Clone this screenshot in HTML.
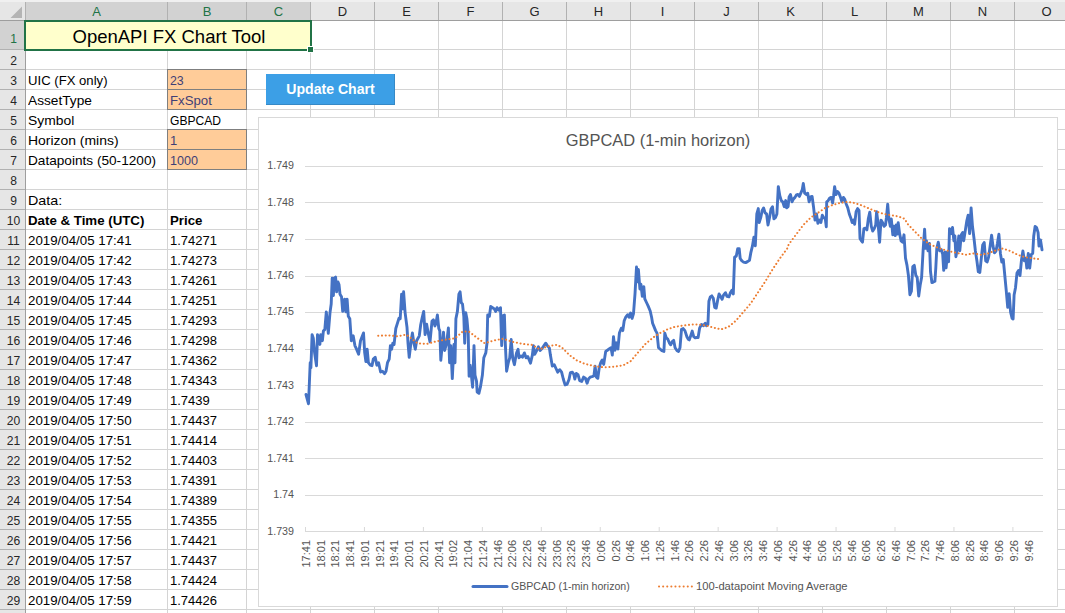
<!DOCTYPE html><html><head><meta charset="utf-8"><title>OpenAPI FX Chart Tool</title><style>
html,body{margin:0;padding:0;}
body{width:1065px;height:613px;overflow:hidden;background:#fff;position:relative;font-family:"Liberation Sans",sans-serif;}
.abs{position:absolute;}
.t{position:absolute;white-space:nowrap;color:#000;font-size:13px;line-height:20px;height:20px;transform-origin:0 50%;}
.b{font-weight:bold;}
.ch{position:absolute;top:2px;height:18px;line-height:19px;text-align:center;font-size:13px;color:#262626;}
.rh{position:absolute;left:0.5px;width:25px;text-align:center;transform:scaleX(0.93);font-size:13px;color:#262626;}
.inp{position:absolute;background:#ffcc99;border:1px solid #7f7f7f;box-sizing:border-box;}
.xl{position:absolute;font-size:11px;color:#545454;white-space:nowrap;transform-origin:0 0;transform:rotate(-90deg);line-height:12px;height:12px;width:40px;text-align:right;}
.yl{position:absolute;font-size:10.7px;color:#545454;white-space:nowrap;text-align:right;width:40px;line-height:12px;height:12px;}
</style></head><body>
<svg class="abs" style="left:0;top:0" width="1065" height="613" shape-rendering="crispEdges">
<rect x="167" y="21" width="1" height="592" fill="#d4d4d4"/>
<rect x="246" y="21" width="1" height="592" fill="#d4d4d4"/>
<rect x="310" y="21" width="1" height="592" fill="#d4d4d4"/>
<rect x="374" y="21" width="1" height="592" fill="#d4d4d4"/>
<rect x="438" y="21" width="1" height="592" fill="#d4d4d4"/>
<rect x="502" y="21" width="1" height="592" fill="#d4d4d4"/>
<rect x="566" y="21" width="1" height="592" fill="#d4d4d4"/>
<rect x="630" y="21" width="1" height="592" fill="#d4d4d4"/>
<rect x="694" y="21" width="1" height="592" fill="#d4d4d4"/>
<rect x="758" y="21" width="1" height="592" fill="#d4d4d4"/>
<rect x="822" y="21" width="1" height="592" fill="#d4d4d4"/>
<rect x="886" y="21" width="1" height="592" fill="#d4d4d4"/>
<rect x="950" y="21" width="1" height="592" fill="#d4d4d4"/>
<rect x="1014" y="21" width="1" height="592" fill="#d4d4d4"/>
<rect x="26" y="49" width="1039" height="1" fill="#d4d4d4"/>
<rect x="26" y="69" width="1039" height="1" fill="#d4d4d4"/>
<rect x="26" y="89" width="1039" height="1" fill="#d4d4d4"/>
<rect x="26" y="109" width="1039" height="1" fill="#d4d4d4"/>
<rect x="26" y="129" width="1039" height="1" fill="#d4d4d4"/>
<rect x="26" y="149" width="1039" height="1" fill="#d4d4d4"/>
<rect x="26" y="169" width="1039" height="1" fill="#d4d4d4"/>
<rect x="26" y="189" width="1039" height="1" fill="#d4d4d4"/>
<rect x="26" y="209" width="1039" height="1" fill="#d4d4d4"/>
<rect x="26" y="229" width="1039" height="1" fill="#d4d4d4"/>
<rect x="26" y="249" width="1039" height="1" fill="#d4d4d4"/>
<rect x="26" y="269" width="1039" height="1" fill="#d4d4d4"/>
<rect x="26" y="289" width="1039" height="1" fill="#d4d4d4"/>
<rect x="26" y="309" width="1039" height="1" fill="#d4d4d4"/>
<rect x="26" y="329" width="1039" height="1" fill="#d4d4d4"/>
<rect x="26" y="349" width="1039" height="1" fill="#d4d4d4"/>
<rect x="26" y="369" width="1039" height="1" fill="#d4d4d4"/>
<rect x="26" y="389" width="1039" height="1" fill="#d4d4d4"/>
<rect x="26" y="409" width="1039" height="1" fill="#d4d4d4"/>
<rect x="26" y="429" width="1039" height="1" fill="#d4d4d4"/>
<rect x="26" y="449" width="1039" height="1" fill="#d4d4d4"/>
<rect x="26" y="469" width="1039" height="1" fill="#d4d4d4"/>
<rect x="26" y="489" width="1039" height="1" fill="#d4d4d4"/>
<rect x="26" y="509" width="1039" height="1" fill="#d4d4d4"/>
<rect x="26" y="529" width="1039" height="1" fill="#d4d4d4"/>
<rect x="26" y="549" width="1039" height="1" fill="#d4d4d4"/>
<rect x="26" y="569" width="1039" height="1" fill="#d4d4d4"/>
<rect x="26" y="589" width="1039" height="1" fill="#d4d4d4"/>
<rect x="26" y="609" width="1039" height="1" fill="#d4d4d4"/>
</svg>
<div class="abs" style="left:0;top:0;width:1065px;height:2px;background:#f0f0f0"></div>
<div class="abs" style="left:0;top:2px;width:1065px;height:18px;background:#e6e6e6"></div>
<div class="abs" style="left:0;top:20px;width:1065px;height:1px;background:#9e9e9e"></div>
<div class="abs" style="left:26px;top:2px;width:285px;height:18px;background:#d2d2d2"></div>
<div class="ch" style="left:26px;width:141px;color:#217346">A</div>
<div class="abs" style="left:167px;top:2px;width:1px;height:18px;background:#b1b1b1"></div>
<div class="ch" style="left:168px;width:78px;color:#217346">B</div>
<div class="abs" style="left:246px;top:2px;width:1px;height:18px;background:#b1b1b1"></div>
<div class="ch" style="left:247px;width:63px;color:#217346">C</div>
<div class="abs" style="left:310px;top:2px;width:1px;height:18px;background:#b1b1b1"></div>
<div class="ch" style="left:311px;width:63px;color:#262626">D</div>
<div class="abs" style="left:374px;top:2px;width:1px;height:18px;background:#b1b1b1"></div>
<div class="ch" style="left:375px;width:63px;color:#262626">E</div>
<div class="abs" style="left:438px;top:2px;width:1px;height:18px;background:#b1b1b1"></div>
<div class="ch" style="left:439px;width:63px;color:#262626">F</div>
<div class="abs" style="left:502px;top:2px;width:1px;height:18px;background:#b1b1b1"></div>
<div class="ch" style="left:503px;width:63px;color:#262626">G</div>
<div class="abs" style="left:566px;top:2px;width:1px;height:18px;background:#b1b1b1"></div>
<div class="ch" style="left:567px;width:63px;color:#262626">H</div>
<div class="abs" style="left:630px;top:2px;width:1px;height:18px;background:#b1b1b1"></div>
<div class="ch" style="left:631px;width:63px;color:#262626">I</div>
<div class="abs" style="left:694px;top:2px;width:1px;height:18px;background:#b1b1b1"></div>
<div class="ch" style="left:695px;width:63px;color:#262626">J</div>
<div class="abs" style="left:758px;top:2px;width:1px;height:18px;background:#b1b1b1"></div>
<div class="ch" style="left:759px;width:63px;color:#262626">K</div>
<div class="abs" style="left:822px;top:2px;width:1px;height:18px;background:#b1b1b1"></div>
<div class="ch" style="left:823px;width:63px;color:#262626">L</div>
<div class="abs" style="left:886px;top:2px;width:1px;height:18px;background:#b1b1b1"></div>
<div class="ch" style="left:887px;width:63px;color:#262626">M</div>
<div class="abs" style="left:950px;top:2px;width:1px;height:18px;background:#b1b1b1"></div>
<div class="ch" style="left:951px;width:63px;color:#262626">N</div>
<div class="abs" style="left:1014px;top:2px;width:1px;height:18px;background:#b1b1b1"></div>
<div class="ch" style="left:1015px;width:63px;color:#262626">O</div>
<div class="abs" style="left:1078px;top:2px;width:1px;height:18px;background:#b1b1b1"></div>
<div class="abs" style="left:25px;top:2px;width:1px;height:18px;background:#b1b1b1"></div>
<svg class="abs" style="left:0;top:0" width="25" height="21"><polygon points="22,6.5 22,18 10.5,18" fill="#b4b4b4"/></svg>
<div class="abs" style="left:0;top:21px;width:25px;height:592px;background:#e6e6e6"></div>
<div class="abs" style="left:25px;top:21px;width:1px;height:592px;background:#9e9e9e"></div>
<div class="abs" style="left:0;top:21px;width:25px;height:29px;background:#d2d2d2"></div>
<div class="rh" style="top:21px;height:28px;line-height:36px;color:#217346">1</div>
<div class="abs" style="left:0;top:49px;width:25px;height:1px;background:#b1b1b1"></div>
<div class="rh" style="top:50px;height:19px;line-height:21px;color:#262626">2</div>
<div class="abs" style="left:0;top:69px;width:25px;height:1px;background:#b1b1b1"></div>
<div class="rh" style="top:70px;height:19px;line-height:21px;color:#262626">3</div>
<div class="abs" style="left:0;top:89px;width:25px;height:1px;background:#b1b1b1"></div>
<div class="rh" style="top:90px;height:19px;line-height:21px;color:#262626">4</div>
<div class="abs" style="left:0;top:109px;width:25px;height:1px;background:#b1b1b1"></div>
<div class="rh" style="top:110px;height:19px;line-height:21px;color:#262626">5</div>
<div class="abs" style="left:0;top:129px;width:25px;height:1px;background:#b1b1b1"></div>
<div class="rh" style="top:130px;height:19px;line-height:21px;color:#262626">6</div>
<div class="abs" style="left:0;top:149px;width:25px;height:1px;background:#b1b1b1"></div>
<div class="rh" style="top:150px;height:19px;line-height:21px;color:#262626">7</div>
<div class="abs" style="left:0;top:169px;width:25px;height:1px;background:#b1b1b1"></div>
<div class="rh" style="top:170px;height:19px;line-height:21px;color:#262626">8</div>
<div class="abs" style="left:0;top:189px;width:25px;height:1px;background:#b1b1b1"></div>
<div class="rh" style="top:190px;height:19px;line-height:21px;color:#262626">9</div>
<div class="abs" style="left:0;top:209px;width:25px;height:1px;background:#b1b1b1"></div>
<div class="rh" style="top:210px;height:19px;line-height:21px;color:#262626">10</div>
<div class="abs" style="left:0;top:229px;width:25px;height:1px;background:#b1b1b1"></div>
<div class="rh" style="top:230px;height:19px;line-height:21px;color:#262626">11</div>
<div class="abs" style="left:0;top:249px;width:25px;height:1px;background:#b1b1b1"></div>
<div class="rh" style="top:250px;height:19px;line-height:21px;color:#262626">12</div>
<div class="abs" style="left:0;top:269px;width:25px;height:1px;background:#b1b1b1"></div>
<div class="rh" style="top:270px;height:19px;line-height:21px;color:#262626">13</div>
<div class="abs" style="left:0;top:289px;width:25px;height:1px;background:#b1b1b1"></div>
<div class="rh" style="top:290px;height:19px;line-height:21px;color:#262626">14</div>
<div class="abs" style="left:0;top:309px;width:25px;height:1px;background:#b1b1b1"></div>
<div class="rh" style="top:310px;height:19px;line-height:21px;color:#262626">15</div>
<div class="abs" style="left:0;top:329px;width:25px;height:1px;background:#b1b1b1"></div>
<div class="rh" style="top:330px;height:19px;line-height:21px;color:#262626">16</div>
<div class="abs" style="left:0;top:349px;width:25px;height:1px;background:#b1b1b1"></div>
<div class="rh" style="top:350px;height:19px;line-height:21px;color:#262626">17</div>
<div class="abs" style="left:0;top:369px;width:25px;height:1px;background:#b1b1b1"></div>
<div class="rh" style="top:370px;height:19px;line-height:21px;color:#262626">18</div>
<div class="abs" style="left:0;top:389px;width:25px;height:1px;background:#b1b1b1"></div>
<div class="rh" style="top:390px;height:19px;line-height:21px;color:#262626">19</div>
<div class="abs" style="left:0;top:409px;width:25px;height:1px;background:#b1b1b1"></div>
<div class="rh" style="top:410px;height:19px;line-height:21px;color:#262626">20</div>
<div class="abs" style="left:0;top:429px;width:25px;height:1px;background:#b1b1b1"></div>
<div class="rh" style="top:430px;height:19px;line-height:21px;color:#262626">21</div>
<div class="abs" style="left:0;top:449px;width:25px;height:1px;background:#b1b1b1"></div>
<div class="rh" style="top:450px;height:19px;line-height:21px;color:#262626">22</div>
<div class="abs" style="left:0;top:469px;width:25px;height:1px;background:#b1b1b1"></div>
<div class="rh" style="top:470px;height:19px;line-height:21px;color:#262626">23</div>
<div class="abs" style="left:0;top:489px;width:25px;height:1px;background:#b1b1b1"></div>
<div class="rh" style="top:490px;height:19px;line-height:21px;color:#262626">24</div>
<div class="abs" style="left:0;top:509px;width:25px;height:1px;background:#b1b1b1"></div>
<div class="rh" style="top:510px;height:19px;line-height:21px;color:#262626">25</div>
<div class="abs" style="left:0;top:529px;width:25px;height:1px;background:#b1b1b1"></div>
<div class="rh" style="top:530px;height:19px;line-height:21px;color:#262626">26</div>
<div class="abs" style="left:0;top:549px;width:25px;height:1px;background:#b1b1b1"></div>
<div class="rh" style="top:550px;height:19px;line-height:21px;color:#262626">27</div>
<div class="abs" style="left:0;top:569px;width:25px;height:1px;background:#b1b1b1"></div>
<div class="rh" style="top:570px;height:19px;line-height:21px;color:#262626">28</div>
<div class="abs" style="left:0;top:589px;width:25px;height:1px;background:#b1b1b1"></div>
<div class="rh" style="top:590px;height:19px;line-height:21px;color:#262626">29</div>
<div class="abs" style="left:0;top:609px;width:25px;height:1px;background:#b1b1b1"></div>
<div class="rh" style="top:610px;height:19px;line-height:21px;color:#262626">30</div>
<div class="abs" style="left:0;top:629px;width:25px;height:1px;background:#b1b1b1"></div>
<div class="abs" style="left:25px;top:21px;width:286px;height:29px;background:#ffffcc"></div>
<div class="abs" id="title" style="left:25px;top:21px;width:286px;height:29px;line-height:32px;text-align:center;font-size:18.5px;color:#000;white-space:nowrap;left:26px">OpenAPI FX Chart Tool</div>
<div class="abs" style="left:24px;top:20px;width:284px;height:27px;border:2px solid #217346"></div>
<div class="abs" style="left:307px;top:46px;width:5px;height:5px;background:#217346;border:1px solid #fff"></div>
<div class="inp" style="left:167px;top:69px;width:80px;height:21px"></div>
<div class="inp" style="left:167px;top:89px;width:80px;height:21px"></div>
<div class="inp" style="left:167px;top:129px;width:80px;height:21px"></div>
<div class="inp" style="left:167px;top:149px;width:80px;height:21px"></div>
<div class="t" style="left:28.3px;top:71px;transform:scaleX(1.01);">UIC (FX only)</div>
<div class="t" style="left:28.3px;top:91px;transform:scaleX(1.053);">AssetType</div>
<div class="t" style="left:28.3px;top:111px;transform:scaleX(1.067);">Symbol</div>
<div class="t" style="left:28.3px;top:131px;transform:scaleX(1.071);">Horizon (mins)</div>
<div class="t" style="left:28.3px;top:151px;transform:scaleX(1.048);">Datapoints (50-1200)</div>
<div class="t" style="left:28.3px;top:191px;transform:scaleX(1.1);">Data:</div>
<div class="t b" style="left:28.3px;top:211px;transform:scaleX(1.022);">Date &amp; Time (UTC)</div>
<div class="t b" style="left:170px;top:211px;transform:scaleX(1.02);">Price</div>
<div class="t" style="left:170px;top:71px;transform:scaleX(0.95);color:#3f3f76;">23</div>
<div class="t" style="left:170px;top:91px;transform:scaleX(1.015);color:#3f3f76;">FxSpot</div>
<div class="t" style="left:170px;top:111px;transform:scaleX(0.93);color:#000;">GBPCAD</div>
<div class="t" style="left:170px;top:131px;color:#3f3f76;">1</div>
<div class="t" style="left:170px;top:151px;transform:scaleX(0.97);color:#3f3f76;">1000</div>
<div class="t" style="left:28.3px;top:231px;transform:scaleX(1.023);">2019/04/05 17:41</div>
<div class="t" style="left:170px;top:231px;">1.74271</div>
<div class="t" style="left:28.3px;top:251px;transform:scaleX(1.023);">2019/04/05 17:42</div>
<div class="t" style="left:170px;top:251px;">1.74273</div>
<div class="t" style="left:28.3px;top:271px;transform:scaleX(1.023);">2019/04/05 17:43</div>
<div class="t" style="left:170px;top:271px;">1.74261</div>
<div class="t" style="left:28.3px;top:291px;transform:scaleX(1.023);">2019/04/05 17:44</div>
<div class="t" style="left:170px;top:291px;">1.74251</div>
<div class="t" style="left:28.3px;top:311px;transform:scaleX(1.023);">2019/04/05 17:45</div>
<div class="t" style="left:170px;top:311px;">1.74293</div>
<div class="t" style="left:28.3px;top:331px;transform:scaleX(1.023);">2019/04/05 17:46</div>
<div class="t" style="left:170px;top:331px;">1.74298</div>
<div class="t" style="left:28.3px;top:351px;transform:scaleX(1.023);">2019/04/05 17:47</div>
<div class="t" style="left:170px;top:351px;">1.74362</div>
<div class="t" style="left:28.3px;top:371px;transform:scaleX(1.023);">2019/04/05 17:48</div>
<div class="t" style="left:170px;top:371px;">1.74343</div>
<div class="t" style="left:28.3px;top:391px;transform:scaleX(1.023);">2019/04/05 17:49</div>
<div class="t" style="left:170px;top:391px;">1.7439</div>
<div class="t" style="left:28.3px;top:411px;transform:scaleX(1.023);">2019/04/05 17:50</div>
<div class="t" style="left:170px;top:411px;">1.74437</div>
<div class="t" style="left:28.3px;top:431px;transform:scaleX(1.023);">2019/04/05 17:51</div>
<div class="t" style="left:170px;top:431px;">1.74414</div>
<div class="t" style="left:28.3px;top:451px;transform:scaleX(1.023);">2019/04/05 17:52</div>
<div class="t" style="left:170px;top:451px;">1.74403</div>
<div class="t" style="left:28.3px;top:471px;transform:scaleX(1.023);">2019/04/05 17:53</div>
<div class="t" style="left:170px;top:471px;">1.74391</div>
<div class="t" style="left:28.3px;top:491px;transform:scaleX(1.023);">2019/04/05 17:54</div>
<div class="t" style="left:170px;top:491px;">1.74389</div>
<div class="t" style="left:28.3px;top:511px;transform:scaleX(1.023);">2019/04/05 17:55</div>
<div class="t" style="left:170px;top:511px;">1.74355</div>
<div class="t" style="left:28.3px;top:531px;transform:scaleX(1.023);">2019/04/05 17:56</div>
<div class="t" style="left:170px;top:531px;">1.74421</div>
<div class="t" style="left:28.3px;top:551px;transform:scaleX(1.023);">2019/04/05 17:57</div>
<div class="t" style="left:170px;top:551px;">1.74437</div>
<div class="t" style="left:28.3px;top:571px;transform:scaleX(1.023);">2019/04/05 17:58</div>
<div class="t" style="left:170px;top:571px;">1.74424</div>
<div class="t" style="left:28.3px;top:591px;transform:scaleX(1.023);">2019/04/05 17:59</div>
<div class="t" style="left:170px;top:591px;">1.74426</div>
<div class="abs" style="left:266px;top:74px;width:129px;height:31px;background:#3c9fe6;box-shadow:inset -1px -1px 0 #3689c6"></div>
<div class="abs" id="btn" style="left:266px;top:74px;width:129px;height:31px;line-height:30px;text-align:center;color:#fff;font-weight:bold;font-size:14.1px;white-space:nowrap">Update Chart</div>
<div class="abs" style="left:258px;top:117px;width:798px;height:488px;background:#fff;border:1px solid #d9d9d9"></div>
<div class="abs" id="ctitle" style="left:258px;top:128.5px;width:800px;text-align:center;font-size:17.2px;line-height:22px;color:#545454;white-space:nowrap;transform:scaleX(0.957)">GBPCAD (1-min horizon)</div>
<svg class="abs" style="left:0;top:0" width="1065" height="613">
<g shape-rendering="crispEdges">
<rect x="305" y="166" width="738" height="1" fill="#d9d9d9"/>
<rect x="305" y="202" width="738" height="1" fill="#d9d9d9"/>
<rect x="305" y="239" width="738" height="1" fill="#d9d9d9"/>
<rect x="305" y="276" width="738" height="1" fill="#d9d9d9"/>
<rect x="305" y="312" width="738" height="1" fill="#d9d9d9"/>
<rect x="305" y="349" width="738" height="1" fill="#d9d9d9"/>
<rect x="305" y="385" width="738" height="1" fill="#d9d9d9"/>
<rect x="305" y="422" width="738" height="1" fill="#d9d9d9"/>
<rect x="305" y="458" width="738" height="1" fill="#d9d9d9"/>
<rect x="305" y="495" width="738" height="1" fill="#d9d9d9"/>
<rect x="305" y="531" width="738" height="1" fill="#d9d9d9"/>
</g>
<rect x="305.00" y="527" width="1" height="4" fill="#d9d9d9"/>
<rect x="363.95" y="527" width="1" height="4" fill="#d9d9d9"/>
<rect x="422.90" y="527" width="1" height="4" fill="#d9d9d9"/>
<rect x="481.85" y="527" width="1" height="4" fill="#d9d9d9"/>
<rect x="540.80" y="527" width="1" height="4" fill="#d9d9d9"/>
<rect x="599.75" y="527" width="1" height="4" fill="#d9d9d9"/>
<rect x="658.70" y="527" width="1" height="4" fill="#d9d9d9"/>
<rect x="717.65" y="527" width="1" height="4" fill="#d9d9d9"/>
<rect x="776.60" y="527" width="1" height="4" fill="#d9d9d9"/>
<rect x="835.55" y="527" width="1" height="4" fill="#d9d9d9"/>
<rect x="894.50" y="527" width="1" height="4" fill="#d9d9d9"/>
<rect x="953.45" y="527" width="1" height="4" fill="#d9d9d9"/>
<rect x="1012.40" y="527" width="1" height="4" fill="#d9d9d9"/>
<path d="M306.0,394.5 L308.5,403.8 L309.2,387.2 L310.2,362.7 L310.9,367.6 L312.1,334.6 L313.3,338.3 L314.6,352.9 L316.5,365.7 L317.5,334.6 L319.0,340.7 L319.9,344.4 L320.7,334.6 L322.4,340.7 L323.4,330.9 L324.8,329.7 L326.3,311.9 L328.3,333.4 L330.0,312.6 L331.2,304.0 L332.2,278.3 L333.4,295.5 L334.1,278.3 L335.6,277.1 L336.6,291.8 L338.0,282.0 L339.0,284.5 L340.0,294.2 L341.5,296.7 L342.7,311.4 L344.7,299.1 L345.9,311.9 L347.1,299.1 L348.3,316.3 L349.8,318.7 L351.3,340.7 L353.2,335.8 L354.9,345.6 L356.1,348.1 L358.6,354.2 L360.5,340.7 L363.5,332.9 L364.7,352.9 L365.9,361.5 L367.2,349.3 L368.4,362.7 L370.3,365.2 L372.0,365.7 L373.3,359.1 L375.2,357.3 L376.9,365.2 L378.6,362.7 L380.6,372.0 L382.6,371.3 L384.5,373.7 L386.0,371.3 L387.5,362.7 L389.2,359.1 L390.4,345.6 L391.6,349.3 L392.8,343.2 L394.1,344.4 L395.8,328.5 L397.7,322.4 L399.0,318.2 L400.2,318.7 L401.6,294.2 L402.6,308.9 L403.6,291.8 L405.1,312.6 L407.0,327.3 L408.0,343.2 L409.2,357.3 L411.2,340.7 L412.4,332.9 L413.9,343.2 L415.3,349.3 L416.6,340.7 L418.0,338.3 L419.3,335.8 L420.7,324.8 L422.2,317.5 L423.7,311.4 L425.1,334.6 L426.6,324.1 L428.3,333.4 L430.0,341.9 L432.0,321.1 L433.4,319.9 L434.9,326.0 L435.9,323.6 L437.4,315.0 L438.8,328.5 L439.8,330.9 L440.8,360.3 L442.2,345.6 L443.5,332.2 L444.7,350.5 L446.6,343.2 L448.4,328.0 L449.6,362.7 L450.8,345.6 L452.3,378.6 L454.0,344.4 L455.0,362.7 L455.9,318.7 L457.4,311.4 L458.9,294.2 L460.1,291.8 L461.3,302.8 L462.5,304.0 L463.8,316.3 L464.7,343.2 L465.7,312.6 L466.9,318.7 L468.2,333.4 L469.1,376.2 L470.1,365.2 L471.1,372.5 L472.6,387.2 L474.0,345.6 L475.0,375.0 L476.5,381.1 L477.2,392.1 L478.9,393.3 L480.4,387.2 L482.4,375.0 L483.8,357.8 L485.8,352.9 L487.0,343.2 L487.7,315.0 L489.4,316.3 L490.7,306.5 L492.6,307.7 L494.3,308.9 L495.6,311.4 L497.0,307.7 L498.5,310.1 L500.5,307.7 L501.7,345.6 L502.9,315.8 L504.4,315.0 L505.3,343.2 L506.6,371.3 L508.3,362.7 L509.7,357.8 L511.2,339.5 L512.7,357.8 L514.4,364.7 L515.6,357.8 L516.6,352.9 L518.1,349.3 L519.0,357.8 L521.0,355.9 L522.5,357.3 L524.4,352.9 L526.1,357.8 L527.8,356.6 L529.3,360.3 L530.5,363.2 L532.3,355.4 L533.5,345.6 L534.7,354.2 L536.7,350.5 L538.4,346.8 L540.1,350.5 L542.0,348.5 L544.0,345.6 L545.7,343.2 L547.4,345.6 L549.4,348.1 L550.4,355.1 L552.3,366.1 L554.3,364.8 L556.0,368.5 L557.7,372.2 L559.7,369.7 L561.6,372.2 L563.3,379.0 L565.1,384.9 L567.0,384.4 L569.0,379.5 L570.4,372.7 L572.4,372.2 L573.9,374.6 L574.8,379.0 L576.3,373.4 L578.0,374.6 L579.7,380.7 L581.7,381.5 L583.6,377.1 L585.4,378.3 L587.1,383.2 L588.5,379.0 L590.2,377.1 L592.0,376.6 L593.9,375.9 L595.1,366.1 L596.4,377.1 L597.8,378.3 L599.3,367.3 L600.8,362.4 L602.2,360.0 L603.7,364.4 L605.7,351.4 L607.4,350.2 L609.1,349.0 L611.0,347.7 L612.3,355.1 L613.5,336.7 L615.0,350.2 L616.4,342.8 L617.9,349.0 L619.4,333.1 L621.3,328.2 L622.8,330.6 L624.2,320.8 L625.7,317.2 L627.7,314.7 L629.1,317.2 L630.6,313.0 L632.1,318.4 L633.5,313.5 L635.0,293.9 L636.5,267.0 L637.5,281.7 L638.4,269.5 L639.9,289.0 L640.9,284.1 L642.3,296.4 L643.8,286.6 L644.8,298.8 L646.5,302.5 L648.2,306.1 L650.2,311.0 L651.6,317.2 L652.6,323.3 L654.1,326.9 L655.6,330.6 L657.0,333.1 L658.5,347.7 L660.0,349.0 L661.9,350.7 L663.9,351.4 L664.8,333.1 L666.3,337.9 L667.8,339.2 L669.3,342.8 L670.7,344.8 L672.2,341.6 L673.7,340.4 L675.1,347.7 L677.1,350.7 L678.5,351.4 L680.0,347.7 L681.5,329.4 L683.2,328.6 L684.9,330.6 L686.9,336.7 L688.3,339.2 L689.3,339.9 L690.8,335.5 L692.2,331.1 L693.7,336.7 L695.2,337.9 L696.6,337.5 L698.1,337.5 L699.6,328.2 L701.5,324.5 L703.5,325.7 L705.2,323.3 L706.4,325.7 L707.9,324.5 L708.9,301.3 L710.3,296.9 L711.8,295.9 L713.3,298.3 L714.7,307.4 L716.2,308.1 L717.7,300.0 L719.1,293.9 L720.6,296.4 L722.1,299.3 L723.5,295.1 L725.5,292.7 L727.0,296.4 L728.9,296.9 L730.4,292.7 L731.9,290.2 L733.3,293.9 L734.6,257.2 L736.3,256.0 L737.7,248.7 L739.2,248.7 L740.2,258.5 L741.9,260.9 L743.6,262.1 L745.6,262.6 L747.5,261.6 L749.5,260.2 L750.9,252.3 L752.4,246.2 L753.9,237.3 L755.3,245.8 L756.8,214.0 L758.3,208.6 L759.2,222.6 L760.7,217.7 L762.2,210.4 L763.6,207.9 L765.1,212.8 L766.6,214.0 L768.0,225.0 L769.5,217.7 L771.0,209.1 L772.5,206.7 L773.9,218.9 L775.4,217.7 L776.9,214.0 L778.3,186.6 L779.8,195.7 L781.3,200.6 L782.7,201.8 L784.2,206.7 L785.7,200.6 L786.6,207.9 L788.1,206.7 L789.1,196.9 L790.5,194.5 L792.0,201.8 L793.5,198.9 L795.0,197.4 L796.4,194.9 L797.9,194.5 L799.4,196.4 L800.8,193.2 L802.3,189.6 L803.3,183.5 L804.7,193.2 L806.2,194.5 L807.7,193.2 L809.1,201.8 L810.6,196.9 L812.1,196.4 L813.5,206.7 L815.0,220.1 L816.5,214.0 L817.9,223.3 L819.4,220.1 L820.9,222.6 L822.3,215.2 L823.8,217.7 L825.3,218.9 L826.3,226.7 L826.7,201.8 L828.2,200.6 L829.7,198.1 L831.2,197.4 L832.6,203.0 L833.6,195.7 L834.6,186.6 L836.0,194.5 L837.5,191.5 L839.0,193.2 L840.4,196.9 L841.9,201.8 L843.4,197.4 L844.8,199.4 L846.3,204.2 L847.8,207.9 L849.3,214.0 L850.7,217.7 L852.2,222.6 L853.7,220.1 L854.6,224.3 L856.1,211.6 L857.6,208.6 L859.0,210.4 L860.0,238.5 L861.5,240.9 L862.5,242.2 L863.9,228.7 L865.4,228.2 L866.9,229.9 L868.3,218.9 L869.8,212.1 L871.3,226.3 L872.7,231.1 L874.2,228.7 L875.7,225.0 L876.6,211.6 L878.1,223.8 L879.6,242.2 L881.0,220.1 L882.5,222.6 L884.0,226.3 L885.5,225.0 L886.4,217.7 L887.7,204.2 L888.9,218.9 L890.3,226.3 L891.3,218.9 L892.8,234.8 L893.8,226.3 L895.2,235.5 L896.2,225.0 L897.2,234.1 L898.2,222.6 L899.6,233.6 L901.1,240.9 L902.6,242.2 L904.0,234.8 L905.5,258.1 L907.0,265.4 L908.4,275.2 L909.9,294.7 L911.4,291.1 L912.8,266.6 L914.3,265.4 L915.8,275.2 L917.2,277.6 L918.7,296.0 L920.2,285.0 L921.6,277.6 L923.1,250.7 L924.6,229.2 L925.6,248.3 L926.5,240.9 L928.0,250.7 L929.5,243.4 L930.5,271.5 L931.9,282.5 L933.4,282.0 L934.9,281.3 L935.8,267.8 L936.8,248.3 L938.3,242.2 L939.7,250.7 L941.2,249.5 L942.7,254.4 L943.7,270.3 L945.1,251.9 L946.1,267.8 L947.6,251.9 L948.6,261.7 L949.5,228.7 L951.0,233.6 L952.5,227.5 L953.9,240.9 L954.9,236.0 L955.9,256.8 L957.4,248.3 L958.8,236.0 L959.8,250.7 L961.3,234.8 L962.7,232.4 L963.7,240.9 L965.2,231.1 L966.7,221.4 L968.1,215.2 L969.6,233.6 L971.1,207.9 L972.5,226.5 L973.9,237.5 L975.4,251.0 L976.9,260.8 L978.3,271.8 L979.8,272.5 L981.3,258.3 L982.7,244.9 L984.2,242.4 L985.7,260.8 L987.1,262.0 L988.6,257.1 L990.1,246.1 L991.6,235.1 L993.0,246.1 L994.5,252.9 L996.0,251.0 L997.4,243.6 L998.9,234.3 L1000.4,253.4 L1001.8,262.0 L1003.3,259.6 L1004.8,275.5 L1006.2,290.2 L1007.7,307.3 L1009.2,293.8 L1010.6,312.2 L1012.1,318.3 L1013.1,319.0 L1014.1,295.1 L1015.5,287.7 L1017.0,273.0 L1018.5,270.6 L1020.0,275.5 L1021.4,260.8 L1022.9,251.0 L1024.4,260.8 L1025.8,258.3 L1026.8,268.1 L1028.3,253.4 L1029.7,268.1 L1031.2,254.7 L1032.7,253.4 L1033.7,236.3 L1035.1,226.5 L1036.6,227.7 L1038.1,232.6 L1039.0,246.1 L1040.5,240.0 L1042.0,249.8" fill="none" stroke="#4472c4" stroke-width="2.9" stroke-linejoin="round" stroke-linecap="round"/>
<path d="M378.2,335.8 L387.9,335.3 L397.7,336.3 L406.3,334.6 L411.2,338.3 L417.3,343.2 L427.1,343.9 L436.9,341.2 L446.6,339.5 L455.2,338.3 L462.5,331.7 L468.7,331.4 L476.0,337.0 L484.6,343.2 L493.1,340.7 L502.9,338.8 L512.7,341.9 L522.5,343.9 L532.3,344.9 L539.6,349.3 L546.9,346.8 L549.9,345.8 L557.2,344.8 L562.1,347.7 L569.5,355.1 L576.8,360.4 L584.1,363.6 L593.9,366.1 L603.7,367.3 L613.5,366.8 L623.3,365.3 L630.6,361.2 L637.9,352.6 L645.3,344.1 L652.6,337.9 L660.0,333.1 L667.3,329.4 L674.6,326.9 L682.0,325.7 L691.8,324.5 L699.1,324.5 L706.4,325.7 L713.8,327.7 L721.1,329.4 L728.4,326.9 L735.8,320.8 L743.1,312.3 L750.5,303.7 L757.8,292.7 L765.1,281.7 L772.5,269.5 L779.8,258.5 L787.1,248.7 L788.6,244.6 L795.9,234.8 L803.3,225.0 L810.6,217.7 L817.9,212.8 L825.3,207.9 L832.6,205.0 L840.0,203.0 L847.3,201.8 L854.6,203.0 L862.0,205.5 L869.3,208.6 L876.6,211.6 L884.0,214.0 L891.3,215.2 L898.7,216.5 L904.8,218.9 L907.3,223.6 L914.7,231.4 L922.0,238.8 L929.4,244.1 L936.7,247.3 L944.1,249.8 L951.4,251.7 L958.8,253.4 L966.1,254.7 L973.4,253.4 L980.8,254.7 L988.1,253.4 L995.5,250.5 L1002.8,248.5 L1010.2,251.0 L1017.5,254.7 L1024.8,257.1 L1032.2,258.3 L1040.8,259.3" fill="none" stroke="#ed7d31" stroke-width="2" stroke-linecap="round" stroke-dasharray="0.1 3.65" stroke-linejoin="round"/>
<line x1="473" y1="586.5" x2="507" y2="586.5" stroke="#4472c4" stroke-width="3" stroke-linecap="round"/>
<line x1="659" y1="586.5" x2="692" y2="586.5" stroke="#ed7d31" stroke-width="2" stroke-linecap="round" stroke-dasharray="0.1 4"/>
</svg>
<div class="yl" style="left:254px;top:159px">1.749</div>
<div class="yl" style="left:254px;top:196px">1.748</div>
<div class="yl" style="left:254px;top:232px">1.747</div>
<div class="yl" style="left:254px;top:269px">1.746</div>
<div class="yl" style="left:254px;top:305px">1.745</div>
<div class="yl" style="left:254px;top:342px">1.744</div>
<div class="yl" style="left:254px;top:379px">1.743</div>
<div class="yl" style="left:254px;top:415px">1.742</div>
<div class="yl" style="left:254px;top:452px">1.741</div>
<div class="yl" style="left:254px;top:488px">1.74</div>
<div class="yl" style="left:254px;top:525px">1.739</div>
<div class="xl" style="left:299.90px;top:580px">17:41</div>
<div class="xl" style="left:314.65px;top:580px">18:01</div>
<div class="xl" style="left:329.40px;top:580px">18:21</div>
<div class="xl" style="left:344.15px;top:580px">18:41</div>
<div class="xl" style="left:358.90px;top:580px">19:01</div>
<div class="xl" style="left:373.65px;top:580px">19:21</div>
<div class="xl" style="left:388.40px;top:580px">19:41</div>
<div class="xl" style="left:403.15px;top:580px">20:01</div>
<div class="xl" style="left:417.90px;top:580px">20:21</div>
<div class="xl" style="left:432.65px;top:580px">20:41</div>
<div class="xl" style="left:447.40px;top:580px">19:02</div>
<div class="xl" style="left:462.15px;top:580px">21:04</div>
<div class="xl" style="left:476.90px;top:580px">21:24</div>
<div class="xl" style="left:491.65px;top:580px">21:46</div>
<div class="xl" style="left:506.40px;top:580px">22:06</div>
<div class="xl" style="left:521.15px;top:580px">22:26</div>
<div class="xl" style="left:535.90px;top:580px">22:46</div>
<div class="xl" style="left:550.65px;top:580px">23:06</div>
<div class="xl" style="left:565.40px;top:580px">23:26</div>
<div class="xl" style="left:580.15px;top:580px">23:46</div>
<div class="xl" style="left:594.90px;top:580px">0:06</div>
<div class="xl" style="left:609.65px;top:580px">0:26</div>
<div class="xl" style="left:624.40px;top:580px">0:46</div>
<div class="xl" style="left:639.15px;top:580px">1:06</div>
<div class="xl" style="left:653.90px;top:580px">1:26</div>
<div class="xl" style="left:668.65px;top:580px">1:46</div>
<div class="xl" style="left:683.40px;top:580px">2:06</div>
<div class="xl" style="left:698.15px;top:580px">2:26</div>
<div class="xl" style="left:712.90px;top:580px">2:46</div>
<div class="xl" style="left:727.65px;top:580px">3:06</div>
<div class="xl" style="left:742.40px;top:580px">3:26</div>
<div class="xl" style="left:757.15px;top:580px">3:46</div>
<div class="xl" style="left:771.90px;top:580px">4:06</div>
<div class="xl" style="left:786.65px;top:580px">4:26</div>
<div class="xl" style="left:801.40px;top:580px">4:46</div>
<div class="xl" style="left:816.15px;top:580px">5:06</div>
<div class="xl" style="left:830.90px;top:580px">5:26</div>
<div class="xl" style="left:845.65px;top:580px">5:46</div>
<div class="xl" style="left:860.40px;top:580px">6:06</div>
<div class="xl" style="left:875.15px;top:580px">6:26</div>
<div class="xl" style="left:889.90px;top:580px">6:46</div>
<div class="xl" style="left:904.65px;top:580px">7:06</div>
<div class="xl" style="left:919.40px;top:580px">7:26</div>
<div class="xl" style="left:934.15px;top:580px">7:46</div>
<div class="xl" style="left:948.90px;top:580px">8:06</div>
<div class="xl" style="left:963.65px;top:580px">8:26</div>
<div class="xl" style="left:978.40px;top:580px">8:46</div>
<div class="xl" style="left:993.15px;top:580px">9:06</div>
<div class="xl" style="left:1007.90px;top:580px">9:26</div>
<div class="xl" style="left:1022.65px;top:580px">9:46</div>
<div class="abs lg" id="lg1" style="left:511px;top:580px;font-size:10.7px;line-height:13px;color:#545454;white-space:nowrap;transform-origin:0 50%;transform:scaleX(0.99)">GBPCAD (1-min horizon)</div>
<div class="abs lg" id="lg2" style="left:696px;top:580px;font-size:10.7px;line-height:13px;color:#545454;white-space:nowrap;transform-origin:0 50%;transform:scaleX(1.047)">100-datapoint Moving Average</div>
</body></html>
